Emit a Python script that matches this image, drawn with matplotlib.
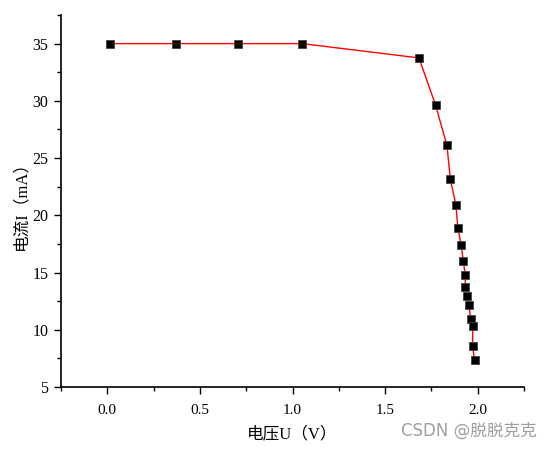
import matplotlib
matplotlib.use("Agg")
import matplotlib.pyplot as plt
from matplotlib.ticker import MultipleLocator

plt.rcParams['font.family'] = ['Liberation Serif', 'Noto Sans CJK SC']

# voltage (V) and current (mA)
voltage = [0.016, 0.372, 0.707, 1.052, 1.683, 1.773, 1.834, 1.852, 1.882, 1.893,
           1.911, 1.922, 1.933, 1.933, 1.942, 1.953, 1.962, 1.974, 1.972, 1.983]
current = [35.0, 35.0, 35.0, 35.0, 33.75, 29.6, 26.1, 23.2, 20.9, 18.9,
           17.4, 16.0, 14.8, 13.75, 12.95, 12.2, 10.9, 10.3, 8.6, 7.35]

xlabel = "电压U（V）"
ylabel = "电流I（mA）"
watermark = "CSDN @脱脱克克"

fig = plt.figure(figsize=(5.53, 4.49), dpi=100)
ax = fig.add_axes([61 / 553, 62 / 449, 463 / 553, 372 / 449])

ax.plot(voltage, current, color='red', linewidth=1.0, marker='s', markersize=6,
        markerfacecolor='black', markeredgecolor='#444444', markeredgewidth=0.6)

ax.set_xlim(-0.25, 2.25)
ax.set_ylim(5, 37.5)
ax.xaxis.set_major_locator(MultipleLocator(0.5))
ax.xaxis.set_minor_locator(MultipleLocator(0.25))
ax.yaxis.set_major_locator(MultipleLocator(5))
ax.yaxis.set_minor_locator(MultipleLocator(2.5))
ax.xaxis.set_major_formatter(lambda v, p: "%.1f" % v)

for side in ['top', 'right']:
    ax.spines[side].set_visible(False)
for side in ['left', 'bottom']:
    ax.spines[side].set_linewidth(1.2)

ax.tick_params(which='major', direction='out', length=5, width=1.0, pad=7)
ax.tick_params(which='minor', direction='out', length=3, width=1.0)
ax.tick_params(axis='x', labelsize=11)
ax.tick_params(axis='y', labelsize=11.5, pad=4)

ax.set_xlabel(xlabel, fontsize=12, labelpad=7)
ax.set_ylabel(ylabel, fontsize=12, labelpad=2)

fig.text(537 / 553, 18 / 449, watermark, fontsize=12, color='#a0a0a0',
         ha='right', va='center', family=['DejaVu Sans', 'Noto Sans CJK SC'])

fig.savefig("out.png", dpi=100)
